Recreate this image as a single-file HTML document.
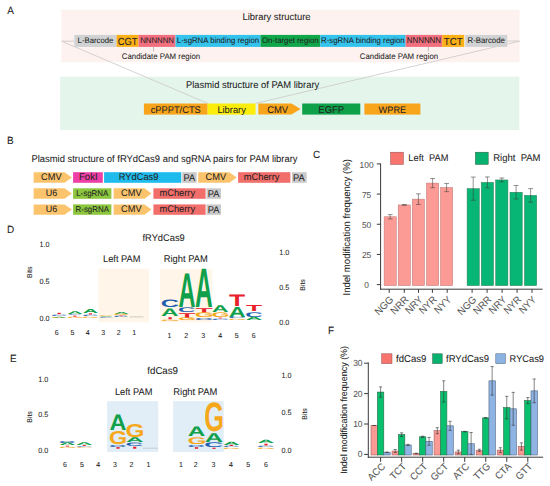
<!DOCTYPE html>
<html><head><meta charset="utf-8"><style>
html,body{margin:0;padding:0;background:#fff;}
svg{display:block;font-family:"Liberation Sans", sans-serif;}
text{stroke-width:0.05px;paint-order:stroke;text-rendering:geometricPrecision;}
</style></head><body>
<svg width="550" height="486" viewBox="0 0 550 486">
<rect width="550" height="486" fill="#fff"/>
<text x="7.30" y="13.70" font-size="10" text-anchor="start" fill="#222222" stroke="#222222" transform="matrix(1,0,0,1.038,0,-0.521)" >A</text>
<text x="7.10" y="143.90" font-size="10" text-anchor="start" fill="#222222" stroke="#222222" transform="matrix(1,0,0,1.038,0,-5.468)" >B</text>
<text x="312.90" y="158.10" font-size="10" text-anchor="start" fill="#222222" stroke="#222222" transform="matrix(1,0,0,1.038,0,-6.008)" >C</text>
<text x="7.10" y="233.10" font-size="10" text-anchor="start" fill="#222222" stroke="#222222" transform="matrix(1,0,0,1.038,0,-8.858)" >D</text>
<text x="10.10" y="361.50" font-size="10" text-anchor="start" fill="#222222" stroke="#222222" transform="matrix(1,0,0,1.038,0,-13.737)" >E</text>
<text x="327.90" y="333.70" font-size="10" text-anchor="start" fill="#222222" stroke="#222222" transform="matrix(1,0,0,1.038,0,-12.681)" >F</text>
<rect x="61.50" y="9.80" width="458.00" height="52.50" fill="#fdf2ef"/>
<rect x="60.20" y="76.70" width="459.10" height="53.30" fill="#e4f5ec"/>
<text x="242.40" y="20.40" font-size="9.45" text-anchor="start" fill="#222222" stroke="#222222" transform="matrix(1,0,0,1.038,0,-0.775)" >Library structure</text>
<line x1="61.50" y1="41.20" x2="74.40" y2="41.20" stroke="#cdc8c8" stroke-width="0.9"/>
<line x1="507.00" y1="41.00" x2="519.50" y2="41.00" stroke="#cdc8c8" stroke-width="0.9"/>
<line x1="62.00" y1="41.40" x2="207.80" y2="103.40" stroke="#cdc8c8" stroke-width="0.8"/>
<line x1="519.50" y1="41.20" x2="255.60" y2="103.40" stroke="#cdc8c8" stroke-width="0.8"/>
<rect x="74.40" y="34.90" width="42.20" height="12.00" fill="#d0d2d3"/>
<text x="95.50" y="43.38" font-size="7.75" text-anchor="middle" fill="#222222" stroke="#222222" transform="matrix(1,0,0,1.038,0,-1.648)"  stroke-width="0.04">L-Barcode</text>
<rect x="116.60" y="34.90" width="22.00" height="12.00" fill="#fbb018"/>
<text x="127.60" y="44.71" font-size="9.9" text-anchor="middle" fill="#222222" stroke="#222222" transform="matrix(1,0,0,1.038,0,-1.699)" textLength="19.9" lengthAdjust="spacingAndGlyphs" stroke-width="0.04">CGT</text>
<rect x="138.60" y="34.90" width="36.90" height="12.00" fill="#f26f7f"/>
<text x="157.05" y="43.40" font-size="7.8" text-anchor="middle" fill="#222222" stroke="#222222" transform="matrix(1,0,0,1.038,0,-1.649)"  stroke-width="0.04">NNNNNN</text>
<rect x="175.50" y="34.90" width="85.00" height="12.00" fill="#34c3ec"/>
<text x="218.00" y="43.40" font-size="7.8" text-anchor="middle" fill="#222222" stroke="#222222" transform="matrix(1,0,0,1.038,0,-1.649)"  stroke-width="0.04">L-sgRNA binding region</text>
<rect x="260.50" y="34.90" width="59.70" height="12.00" fill="#10a64a"/>
<text x="290.35" y="43.39" font-size="7.78" text-anchor="middle" fill="#222222" stroke="#222222" transform="matrix(1,0,0,1.038,0,-1.649)"  stroke-width="0.04">On-target region</text>
<rect x="320.20" y="34.90" width="85.40" height="12.00" fill="#34c3ec"/>
<text x="362.90" y="43.40" font-size="7.8" text-anchor="middle" fill="#222222" stroke="#222222" transform="matrix(1,0,0,1.038,0,-1.649)"  stroke-width="0.04">R-sgRNA binding region</text>
<rect x="405.60" y="34.90" width="36.60" height="12.00" fill="#f26f7f"/>
<text x="423.90" y="43.43" font-size="7.9" text-anchor="middle" fill="#222222" stroke="#222222" transform="matrix(1,0,0,1.038,0,-1.650)"  stroke-width="0.04">NNNNNN</text>
<rect x="442.20" y="34.90" width="22.00" height="12.00" fill="#fbb018"/>
<text x="453.20" y="44.71" font-size="9.9" text-anchor="middle" fill="#222222" stroke="#222222" transform="matrix(1,0,0,1.038,0,-1.699)" textLength="18.9" lengthAdjust="spacingAndGlyphs" stroke-width="0.04">TCT</text>
<rect x="465.20" y="34.90" width="42.00" height="12.00" fill="#d0d2d3"/>
<text x="486.20" y="43.40" font-size="7.8" text-anchor="middle" fill="#222222" stroke="#222222" transform="matrix(1,0,0,1.038,0,-1.649)"  stroke-width="0.04">R-Barcode</text>
<line x1="153.60" y1="46.90" x2="153.60" y2="51.60" stroke="#999" stroke-width="0.6"/>
<line x1="428.30" y1="46.90" x2="428.30" y2="51.60" stroke="#999" stroke-width="0.6"/>
<text x="121.80" y="59.30" font-size="7.85" text-anchor="start" fill="#222222" stroke="#222222" transform="matrix(1,0,0,1.038,0,-2.253)" >Candidate PAM region</text>
<text x="359.80" y="59.30" font-size="7.85" text-anchor="start" fill="#222222" stroke="#222222" transform="matrix(1,0,0,1.038,0,-2.253)" >Candidate PAM region</text>
<text x="186.00" y="87.80" font-size="9.4" text-anchor="start" fill="#222222" stroke="#222222" transform="matrix(1,0,0,1.038,0,-3.336)" >Plasmid structure of PAM library</text>
<rect x="143.90" y="103.50" width="63.70" height="11.10" fill="#f8a51c"/>
<text x="175.75" y="113.23" font-size="9.3" text-anchor="middle" fill="#222222" stroke="#222222" transform="matrix(1,0,0,1.038,0,-4.303)"  stroke-width="0.04">cPPPT/CTS</text>
<rect x="207.60" y="103.50" width="48.00" height="11.10" fill="#fcee0a"/>
<text x="231.60" y="113.23" font-size="9.3" text-anchor="middle" fill="#222222" stroke="#222222" transform="matrix(1,0,0,1.038,0,-4.303)"  stroke-width="0.04">Library</text>
<polygon points="258.3,103.5 291.5,103.5 300.6,109.05 291.5,114.6 258.3,114.6" fill="#f8a51c"/>
<text x="277.60" y="113.28" font-size="9.4" text-anchor="middle" fill="#222222" stroke="#222222" transform="matrix(1,0,0,1.038,0,-4.305)"  stroke-width="0.04">CMV</text>
<rect x="302.20" y="103.50" width="58.10" height="11.10" fill="#0fa04a"/>
<text x="331.25" y="113.33" font-size="9.5" text-anchor="middle" fill="#222222" stroke="#222222" transform="matrix(1,0,0,1.038,0,-4.306)"  stroke-width="0.04">EGFP</text>
<rect x="364.40" y="103.50" width="56.00" height="11.10" fill="#f8a51c"/>
<text x="392.40" y="113.19" font-size="9.2" text-anchor="middle" fill="#222222" stroke="#222222" transform="matrix(1,0,0,1.038,0,-4.301)"  stroke-width="0.04">WPRE</text>
<text x="31.40" y="161.90" font-size="9.43" text-anchor="start" fill="#222222" stroke="#222222" transform="matrix(1,0,0,1.038,0,-6.152)" >Plasmid structure of fRYdCas9 and sgRNA pairs for PAM library</text>
<polygon points="33.6,172.2 64.5,172.2 71.9,177.5 64.5,182.8 33.6,182.8" fill="#fbc46c"/>
<text x="51.30" y="180.01" font-size="9.3" text-anchor="middle" fill="#222222" stroke="#222222" transform="matrix(1,0,0,1.038,0,-6.840)"  stroke-width="0.04">CMV</text>
<rect x="73.10" y="172.20" width="29.70" height="10.60" fill="#ee3fa6"/>
<text x="88.30" y="180.09" font-size="9.6" text-anchor="middle" fill="#222222" stroke="#222222" transform="matrix(1,0,0,1.038,0,-6.843)"  stroke-width="0.04">FokI</text>
<rect x="104.10" y="172.20" width="77.20" height="10.60" fill="#1fbbec"/>
<text x="138.60" y="180.01" font-size="9.3" text-anchor="middle" fill="#222222" stroke="#222222" transform="matrix(1,0,0,1.038,0,-6.840)"  stroke-width="0.04">RYdCas9</text>
<rect x="182.20" y="172.20" width="14.40" height="10.60" fill="#c9c9c9"/>
<text x="189.40" y="180.85" font-size="9.3" text-anchor="middle" fill="#222222" stroke="#222222" transform="matrix(1,0,0,1.038,0,-6.872)"  stroke-width="0.04">PA</text>
<polygon points="198.2,172.2 229.3,172.2 236.8,177.5 229.3,182.8 198.2,182.8" fill="#fbc46c"/>
<text x="215.80" y="180.01" font-size="9.3" text-anchor="middle" fill="#222222" stroke="#222222" transform="matrix(1,0,0,1.038,0,-6.840)"  stroke-width="0.04">CMV</text>
<rect x="238.10" y="172.20" width="52.30" height="10.60" fill="#f26e6a"/>
<text x="261.60" y="180.01" font-size="9.3" text-anchor="middle" fill="#222222" stroke="#222222" transform="matrix(1,0,0,1.038,0,-6.840)"  stroke-width="0.04">mCherry</text>
<rect x="292.00" y="172.20" width="14.60" height="10.60" fill="#c9c9c9"/>
<text x="298.90" y="181.22" font-size="9.3" text-anchor="middle" fill="#222222" stroke="#222222" transform="matrix(1,0,0,1.038,0,-6.886)"  stroke-width="0.04">PA</text>
<polygon points="33.6,188.3 64.5,188.3 71.9,193.55 64.5,198.8 33.6,198.8" fill="#fbc46c"/>
<text x="51.50" y="196.25" font-size="9.0" text-anchor="middle" fill="#222222" stroke="#222222" transform="matrix(1,0,0,1.038,0,-7.458)"  stroke-width="0.04">U6</text>
<rect x="73.10" y="188.30" width="38.30" height="10.50" fill="#8cc63f"/>
<text x="92.25" y="196.16" font-size="7.9" text-anchor="middle" fill="#222222" stroke="#222222" transform="matrix(1,0,0,1.038,0,-7.454)"  stroke-width="0.04">L-sgRNA</text>
<polygon points="113.6,188.3 144.5,188.3 151.5,193.55 144.5,198.8 113.6,198.8" fill="#fbc46c"/>
<text x="131.30" y="196.34" font-size="9.3" text-anchor="middle" fill="#222222" stroke="#222222" transform="matrix(1,0,0,1.038,0,-7.461)"  stroke-width="0.04">CMV</text>
<rect x="153.40" y="188.30" width="52.20" height="10.50" fill="#f26e6a"/>
<text x="177.30" y="196.34" font-size="9.3" text-anchor="middle" fill="#222222" stroke="#222222" transform="matrix(1,0,0,1.038,0,-7.461)"  stroke-width="0.04">mCherry</text>
<rect x="206.50" y="188.30" width="14.50" height="10.50" fill="#c9c9c9"/>
<text x="213.70" y="196.90" font-size="9.3" text-anchor="middle" fill="#222222" stroke="#222222" transform="matrix(1,0,0,1.038,0,-7.482)"  stroke-width="0.04">PA</text>
<polygon points="33.6,204.4 64.5,204.4 71.9,209.60000000000002 64.5,214.8 33.6,214.8" fill="#fbc46c"/>
<text x="51.50" y="212.30" font-size="9.0" text-anchor="middle" fill="#222222" stroke="#222222" transform="matrix(1,0,0,1.038,0,-8.067)"  stroke-width="0.04">U6</text>
<rect x="73.10" y="204.40" width="38.30" height="10.40" fill="#8cc63f"/>
<text x="92.25" y="212.21" font-size="7.9" text-anchor="middle" fill="#222222" stroke="#222222" transform="matrix(1,0,0,1.038,0,-8.064)"  stroke-width="0.04">R-sgRNA</text>
<polygon points="113.6,204.4 144.5,204.4 151.5,209.60000000000002 144.5,214.8 113.6,214.8" fill="#fbc46c"/>
<text x="131.30" y="212.39" font-size="9.3" text-anchor="middle" fill="#222222" stroke="#222222" transform="matrix(1,0,0,1.038,0,-8.071)"  stroke-width="0.04">CMV</text>
<rect x="153.40" y="204.40" width="52.20" height="10.40" fill="#f26e6a"/>
<text x="177.30" y="212.39" font-size="9.3" text-anchor="middle" fill="#222222" stroke="#222222" transform="matrix(1,0,0,1.038,0,-8.071)"  stroke-width="0.04">mCherry</text>
<rect x="206.50" y="204.40" width="14.50" height="10.40" fill="#c9c9c9"/>
<text x="213.70" y="212.95" font-size="9.3" text-anchor="middle" fill="#222222" stroke="#222222" transform="matrix(1,0,0,1.038,0,-8.092)"  stroke-width="0.04">PA</text>
<line x1="380.60" y1="163.40" x2="380.60" y2="289.70" stroke="#3a3a3a" stroke-width="1.0"/>
<line x1="380.10" y1="289.20" x2="542.60" y2="289.20" stroke="#3a3a3a" stroke-width="1.0"/>
<line x1="376.80" y1="284.60" x2="380.60" y2="284.60" stroke="#3a3a3a" stroke-width="1.0"/>
<text x="366.60" y="288.20" font-size="8.4" text-anchor="middle" fill="#555555" stroke="#555555" transform="matrix(1,0,0,1.038,0,-10.952)" >0</text>
<line x1="376.80" y1="254.43" x2="380.60" y2="254.43" stroke="#3a3a3a" stroke-width="1.0"/>
<text x="366.60" y="258.03" font-size="8.4" text-anchor="middle" fill="#555555" stroke="#555555" transform="matrix(1,0,0,1.038,0,-9.805)" >25</text>
<line x1="376.80" y1="224.25" x2="380.60" y2="224.25" stroke="#3a3a3a" stroke-width="1.0"/>
<text x="366.60" y="227.85" font-size="8.4" text-anchor="middle" fill="#555555" stroke="#555555" transform="matrix(1,0,0,1.038,0,-8.658)" >50</text>
<line x1="376.80" y1="194.08" x2="380.60" y2="194.08" stroke="#3a3a3a" stroke-width="1.0"/>
<text x="366.60" y="197.68" font-size="8.4" text-anchor="middle" fill="#555555" stroke="#555555" transform="matrix(1,0,0,1.038,0,-7.512)" >75</text>
<line x1="376.80" y1="163.90" x2="380.60" y2="163.90" stroke="#3a3a3a" stroke-width="1.0"/>
<text x="366.60" y="167.50" font-size="8.4" text-anchor="middle" fill="#555555" stroke="#555555" transform="matrix(1,0,0,1.038,0,-6.365)" >100</text>
<text font-size="9.55" text-anchor="middle" fill="#222222" stroke="#222222" transform="translate(350.10,227.30) rotate(-90) scale(1,1.038)">Indel modification frequency (%)</text>
<rect x="390.60" y="152.20" width="12.80" height="12.20" fill="#f8756e" stroke="#8a4a4a" stroke-width="0.5"/>
<text x="408.30" y="161.40" font-size="9.3" text-anchor="start" fill="#222222" stroke="#222222" transform="matrix(1,0,0,1.038,0,-6.133)" >Left&#160;&#160;PAM</text>
<rect x="475.40" y="152.20" width="12.80" height="12.20" fill="#07b270" stroke="#2a5a3a" stroke-width="0.5"/>
<text x="493.20" y="161.40" font-size="9.5" text-anchor="start" fill="#222222" stroke="#222222" transform="matrix(1,0,0,1.038,0,-6.133)" >Right&#160;&#160;PAM</text>
<rect x="384.10" y="216.77" width="12.20" height="68.83" fill="#fc9b95" stroke="#b87672" stroke-width="0.5"/>
<line x1="390.20" y1="214.59" x2="390.20" y2="218.94" stroke="#3a3a3a" stroke-width="0.55"/>
<line x1="387.80" y1="214.59" x2="392.60" y2="214.59" stroke="#3a3a3a" stroke-width="0.55"/>
<line x1="387.80" y1="218.94" x2="392.60" y2="218.94" stroke="#3a3a3a" stroke-width="0.55"/>
<rect x="398.20" y="204.94" width="12.20" height="80.66" fill="#fc9b95" stroke="#b87672" stroke-width="0.5"/>
<line x1="404.30" y1="204.58" x2="404.30" y2="205.30" stroke="#3a3a3a" stroke-width="0.55"/>
<line x1="401.90" y1="204.58" x2="406.70" y2="204.58" stroke="#3a3a3a" stroke-width="0.55"/>
<line x1="401.90" y1="205.30" x2="406.70" y2="205.30" stroke="#3a3a3a" stroke-width="0.55"/>
<rect x="412.30" y="199.14" width="12.20" height="86.46" fill="#fc9b95" stroke="#b87672" stroke-width="0.5"/>
<line x1="418.40" y1="193.83" x2="418.40" y2="204.46" stroke="#3a3a3a" stroke-width="0.55"/>
<line x1="416.00" y1="193.83" x2="420.80" y2="193.83" stroke="#3a3a3a" stroke-width="0.55"/>
<line x1="416.00" y1="204.46" x2="420.80" y2="204.46" stroke="#3a3a3a" stroke-width="0.55"/>
<rect x="426.50" y="183.09" width="12.20" height="102.51" fill="#fc9b95" stroke="#b87672" stroke-width="0.5"/>
<line x1="432.60" y1="178.50" x2="432.60" y2="187.68" stroke="#3a3a3a" stroke-width="0.55"/>
<line x1="430.20" y1="178.50" x2="435.00" y2="178.50" stroke="#3a3a3a" stroke-width="0.55"/>
<line x1="430.20" y1="187.68" x2="435.00" y2="187.68" stroke="#3a3a3a" stroke-width="0.55"/>
<rect x="440.50" y="187.56" width="12.20" height="98.04" fill="#fc9b95" stroke="#b87672" stroke-width="0.5"/>
<line x1="446.60" y1="183.45" x2="446.60" y2="191.66" stroke="#3a3a3a" stroke-width="0.55"/>
<line x1="444.20" y1="183.45" x2="449.00" y2="183.45" stroke="#3a3a3a" stroke-width="0.55"/>
<line x1="444.20" y1="191.66" x2="449.00" y2="191.66" stroke="#3a3a3a" stroke-width="0.55"/>
<rect x="467.10" y="188.64" width="12.20" height="96.96" fill="#07b674" stroke="#2f7a55" stroke-width="0.5"/>
<line x1="473.20" y1="177.06" x2="473.20" y2="200.23" stroke="#3a3a3a" stroke-width="0.55"/>
<line x1="470.80" y1="177.06" x2="475.60" y2="177.06" stroke="#3a3a3a" stroke-width="0.55"/>
<line x1="470.80" y1="200.23" x2="475.60" y2="200.23" stroke="#3a3a3a" stroke-width="0.55"/>
<rect x="481.30" y="182.37" width="12.20" height="103.23" fill="#07b674" stroke="#2f7a55" stroke-width="0.5"/>
<line x1="487.40" y1="176.94" x2="487.40" y2="187.80" stroke="#3a3a3a" stroke-width="0.55"/>
<line x1="485.00" y1="176.94" x2="489.80" y2="176.94" stroke="#3a3a3a" stroke-width="0.55"/>
<line x1="485.00" y1="187.80" x2="489.80" y2="187.80" stroke="#3a3a3a" stroke-width="0.55"/>
<rect x="495.70" y="179.95" width="12.20" height="105.65" fill="#07b674" stroke="#2f7a55" stroke-width="0.5"/>
<line x1="501.80" y1="178.02" x2="501.80" y2="181.88" stroke="#3a3a3a" stroke-width="0.55"/>
<line x1="499.40" y1="178.02" x2="504.20" y2="178.02" stroke="#3a3a3a" stroke-width="0.55"/>
<line x1="499.40" y1="181.88" x2="504.20" y2="181.88" stroke="#3a3a3a" stroke-width="0.55"/>
<rect x="510.00" y="192.26" width="12.20" height="93.34" fill="#07b674" stroke="#2f7a55" stroke-width="0.5"/>
<line x1="516.10" y1="185.51" x2="516.10" y2="199.02" stroke="#3a3a3a" stroke-width="0.55"/>
<line x1="513.70" y1="185.51" x2="518.50" y2="185.51" stroke="#3a3a3a" stroke-width="0.55"/>
<line x1="513.70" y1="199.02" x2="518.50" y2="199.02" stroke="#3a3a3a" stroke-width="0.55"/>
<rect x="524.50" y="195.40" width="12.20" height="90.20" fill="#07b674" stroke="#2f7a55" stroke-width="0.5"/>
<line x1="530.60" y1="188.64" x2="530.60" y2="202.16" stroke="#3a3a3a" stroke-width="0.55"/>
<line x1="528.20" y1="188.64" x2="533.00" y2="188.64" stroke="#3a3a3a" stroke-width="0.55"/>
<line x1="528.20" y1="202.16" x2="533.00" y2="202.16" stroke="#3a3a3a" stroke-width="0.55"/>
<line x1="389.20" y1="289.20" x2="389.20" y2="292.80" stroke="#3a3a3a" stroke-width="1.0"/>
<line x1="404.30" y1="289.20" x2="404.30" y2="292.80" stroke="#3a3a3a" stroke-width="1.0"/>
<line x1="418.50" y1="289.20" x2="418.50" y2="292.80" stroke="#3a3a3a" stroke-width="1.0"/>
<line x1="432.40" y1="289.20" x2="432.40" y2="292.80" stroke="#3a3a3a" stroke-width="1.0"/>
<line x1="447.20" y1="289.20" x2="447.20" y2="292.80" stroke="#3a3a3a" stroke-width="1.0"/>
<line x1="472.10" y1="289.20" x2="472.10" y2="292.80" stroke="#3a3a3a" stroke-width="1.0"/>
<line x1="487.10" y1="289.20" x2="487.10" y2="292.80" stroke="#3a3a3a" stroke-width="1.0"/>
<line x1="502.10" y1="289.20" x2="502.10" y2="292.80" stroke="#3a3a3a" stroke-width="1.0"/>
<line x1="517.10" y1="289.20" x2="517.10" y2="292.80" stroke="#3a3a3a" stroke-width="1.0"/>
<line x1="532.00" y1="289.20" x2="532.00" y2="292.80" stroke="#3a3a3a" stroke-width="1.0"/>
<text font-size="9.6" text-anchor="end" fill="#555555" stroke="#555555" transform="translate(394.10,300.20) rotate(-45) scale(1,1.038)">NGG</text>
<text font-size="9.6" text-anchor="end" fill="#555555" stroke="#555555" transform="translate(409.20,300.20) rotate(-45) scale(1,1.038)">NRR</text>
<text font-size="9.6" text-anchor="end" fill="#555555" stroke="#555555" transform="translate(423.40,300.20) rotate(-45) scale(1,1.038)">NRY</text>
<text font-size="9.6" text-anchor="end" fill="#555555" stroke="#555555" transform="translate(437.30,300.20) rotate(-45) scale(1,1.038)">NYR</text>
<text font-size="9.6" text-anchor="end" fill="#555555" stroke="#555555" transform="translate(452.10,300.20) rotate(-45) scale(1,1.038)">NYY</text>
<text font-size="9.6" text-anchor="end" fill="#555555" stroke="#555555" transform="translate(477.00,300.20) rotate(-45) scale(1,1.038)">NGG</text>
<text font-size="9.6" text-anchor="end" fill="#555555" stroke="#555555" transform="translate(492.00,300.20) rotate(-45) scale(1,1.038)">NRR</text>
<text font-size="9.6" text-anchor="end" fill="#555555" stroke="#555555" transform="translate(507.00,300.20) rotate(-45) scale(1,1.038)">NRY</text>
<text font-size="9.6" text-anchor="end" fill="#555555" stroke="#555555" transform="translate(522.00,300.20) rotate(-45) scale(1,1.038)">NYR</text>
<text font-size="9.6" text-anchor="end" fill="#555555" stroke="#555555" transform="translate(536.90,300.20) rotate(-45) scale(1,1.038)">NYY</text>
<line x1="368.30" y1="362.40" x2="368.30" y2="457.70" stroke="#3a3a3a" stroke-width="1.0"/>
<line x1="367.80" y1="457.20" x2="543.20" y2="457.20" stroke="#3a3a3a" stroke-width="1.0"/>
<line x1="364.10" y1="454.40" x2="368.30" y2="454.40" stroke="#3a3a3a" stroke-width="1.0"/>
<text x="362.60" y="457.40" font-size="8.5" text-anchor="end" fill="#555555" stroke="#555555" transform="matrix(1,0,0,1.038,0,-17.381)" >0</text>
<line x1="364.10" y1="424.00" x2="368.30" y2="424.00" stroke="#3a3a3a" stroke-width="1.0"/>
<text x="362.60" y="427.00" font-size="8.5" text-anchor="end" fill="#555555" stroke="#555555" transform="matrix(1,0,0,1.038,0,-16.226)" >10</text>
<line x1="364.10" y1="393.60" x2="368.30" y2="393.60" stroke="#3a3a3a" stroke-width="1.0"/>
<text x="362.60" y="396.60" font-size="8.5" text-anchor="end" fill="#555555" stroke="#555555" transform="matrix(1,0,0,1.038,0,-15.071)" >20</text>
<line x1="364.10" y1="363.20" x2="368.30" y2="363.20" stroke="#3a3a3a" stroke-width="1.0"/>
<text x="362.60" y="366.20" font-size="8.5" text-anchor="end" fill="#555555" stroke="#555555" transform="matrix(1,0,0,1.038,0,-13.916)" >30</text>
<text font-size="8.95" text-anchor="middle" fill="#222222" stroke="#222222" transform="translate(347.30,409.80) rotate(-90) scale(1,1.038)">Indel modification frequency (%)</text>
<rect x="381.70" y="353.80" width="10.30" height="9.80" fill="#f8756e" stroke="#8a4a4a" stroke-width="0.5"/>
<text x="396.00" y="362.30" font-size="9.6" text-anchor="start" fill="#222222" stroke="#222222" transform="matrix(1,0,0,1.038,0,-13.767)" >fdCas9</text>
<rect x="432.60" y="353.80" width="9.60" height="9.80" fill="#07b270" stroke="#2a5a3a" stroke-width="0.5"/>
<text x="446.00" y="362.30" font-size="9.5" text-anchor="start" fill="#222222" stroke="#222222" transform="matrix(1,0,0,1.038,0,-13.767)" >fRYdCas9</text>
<rect x="495.80" y="353.80" width="9.60" height="9.80" fill="#8db3e2" stroke="#4a5a7a" stroke-width="0.5"/>
<text x="509.60" y="362.30" font-size="9.3" text-anchor="start" fill="#222222" stroke="#222222" transform="matrix(1,0,0,1.038,0,-13.767)" >RYCas9</text>
<rect x="371.00" y="425.52" width="6.40" height="29.48" fill="#fa9a95" stroke="#a06060" stroke-width="0.6"/>
<line x1="374.20" y1="425.52" x2="374.20" y2="425.52" stroke="#333" stroke-width="0.6"/>
<line x1="372.60" y1="425.52" x2="375.80" y2="425.52" stroke="#333" stroke-width="0.6"/>
<line x1="372.60" y1="425.52" x2="375.80" y2="425.52" stroke="#333" stroke-width="0.6"/>
<rect x="377.40" y="392.08" width="6.40" height="62.92" fill="#08c06e" stroke="#2a6a45" stroke-width="0.6"/>
<line x1="380.60" y1="386.91" x2="380.60" y2="397.25" stroke="#333" stroke-width="0.6"/>
<line x1="379.00" y1="386.91" x2="382.20" y2="386.91" stroke="#333" stroke-width="0.6"/>
<line x1="379.00" y1="397.25" x2="382.20" y2="397.25" stroke="#333" stroke-width="0.6"/>
<rect x="383.80" y="452.27" width="6.40" height="2.73" fill="#8fb4e3" stroke="#4f6585" stroke-width="0.6"/>
<line x1="387.00" y1="451.97" x2="387.00" y2="452.58" stroke="#333" stroke-width="0.6"/>
<line x1="385.40" y1="451.97" x2="388.60" y2="451.97" stroke="#333" stroke-width="0.6"/>
<line x1="385.40" y1="452.58" x2="388.60" y2="452.58" stroke="#333" stroke-width="0.6"/>
<line x1="380.60" y1="457.20" x2="380.60" y2="461.80" stroke="#3a3a3a" stroke-width="1.0"/>
<text font-size="9.6" text-anchor="end" fill="#555555" stroke="#555555" transform="translate(385.80,467.00) rotate(-45) scale(1,1.038)">ACC</text>
<rect x="392.03" y="451.06" width="6.40" height="3.94" fill="#fa9a95" stroke="#a06060" stroke-width="0.6"/>
<line x1="395.23" y1="449.54" x2="395.23" y2="452.58" stroke="#333" stroke-width="0.6"/>
<line x1="393.63" y1="449.54" x2="396.83" y2="449.54" stroke="#333" stroke-width="0.6"/>
<line x1="393.63" y1="452.58" x2="396.83" y2="452.58" stroke="#333" stroke-width="0.6"/>
<rect x="398.43" y="434.64" width="6.40" height="20.36" fill="#08c06e" stroke="#2a6a45" stroke-width="0.6"/>
<line x1="401.63" y1="432.82" x2="401.63" y2="436.46" stroke="#333" stroke-width="0.6"/>
<line x1="400.03" y1="432.82" x2="403.23" y2="432.82" stroke="#333" stroke-width="0.6"/>
<line x1="400.03" y1="436.46" x2="403.23" y2="436.46" stroke="#333" stroke-width="0.6"/>
<rect x="404.83" y="444.98" width="6.40" height="10.02" fill="#8fb4e3" stroke="#4f6585" stroke-width="0.6"/>
<line x1="408.03" y1="444.37" x2="408.03" y2="445.58" stroke="#333" stroke-width="0.6"/>
<line x1="406.43" y1="444.37" x2="409.63" y2="444.37" stroke="#333" stroke-width="0.6"/>
<line x1="406.43" y1="445.58" x2="409.63" y2="445.58" stroke="#333" stroke-width="0.6"/>
<line x1="401.63" y1="457.20" x2="401.63" y2="461.80" stroke="#3a3a3a" stroke-width="1.0"/>
<text font-size="9.6" text-anchor="end" fill="#555555" stroke="#555555" transform="translate(406.83,467.00) rotate(-45) scale(1,1.038)">TCT</text>
<rect x="413.06" y="453.49" width="6.40" height="1.51" fill="#fa9a95" stroke="#a06060" stroke-width="0.6"/>
<line x1="416.26" y1="453.18" x2="416.26" y2="453.79" stroke="#333" stroke-width="0.6"/>
<line x1="414.66" y1="453.18" x2="417.86" y2="453.18" stroke="#333" stroke-width="0.6"/>
<line x1="414.66" y1="453.79" x2="417.86" y2="453.79" stroke="#333" stroke-width="0.6"/>
<rect x="419.46" y="436.77" width="6.40" height="18.23" fill="#08c06e" stroke="#2a6a45" stroke-width="0.6"/>
<line x1="422.66" y1="436.16" x2="422.66" y2="437.38" stroke="#333" stroke-width="0.6"/>
<line x1="421.06" y1="436.16" x2="424.26" y2="436.16" stroke="#333" stroke-width="0.6"/>
<line x1="421.06" y1="437.38" x2="424.26" y2="437.38" stroke="#333" stroke-width="0.6"/>
<rect x="425.86" y="441.33" width="6.40" height="13.67" fill="#8fb4e3" stroke="#4f6585" stroke-width="0.6"/>
<line x1="429.06" y1="437.38" x2="429.06" y2="445.28" stroke="#333" stroke-width="0.6"/>
<line x1="427.46" y1="437.38" x2="430.66" y2="437.38" stroke="#333" stroke-width="0.6"/>
<line x1="427.46" y1="445.28" x2="430.66" y2="445.28" stroke="#333" stroke-width="0.6"/>
<line x1="422.66" y1="457.20" x2="422.66" y2="461.80" stroke="#3a3a3a" stroke-width="1.0"/>
<text font-size="9.6" text-anchor="end" fill="#555555" stroke="#555555" transform="translate(427.86,467.00) rotate(-45) scale(1,1.038)">CCT</text>
<rect x="434.09" y="430.69" width="6.40" height="24.31" fill="#fa9a95" stroke="#a06060" stroke-width="0.6"/>
<line x1="437.29" y1="427.65" x2="437.29" y2="433.73" stroke="#333" stroke-width="0.6"/>
<line x1="435.69" y1="427.65" x2="438.89" y2="427.65" stroke="#333" stroke-width="0.6"/>
<line x1="435.69" y1="433.73" x2="438.89" y2="433.73" stroke="#333" stroke-width="0.6"/>
<rect x="440.49" y="391.47" width="6.40" height="63.53" fill="#08c06e" stroke="#2a6a45" stroke-width="0.6"/>
<line x1="443.69" y1="380.83" x2="443.69" y2="402.11" stroke="#333" stroke-width="0.6"/>
<line x1="442.09" y1="380.83" x2="445.29" y2="380.83" stroke="#333" stroke-width="0.6"/>
<line x1="442.09" y1="402.11" x2="445.29" y2="402.11" stroke="#333" stroke-width="0.6"/>
<rect x="446.89" y="425.82" width="6.40" height="29.18" fill="#8fb4e3" stroke="#4f6585" stroke-width="0.6"/>
<line x1="450.09" y1="421.26" x2="450.09" y2="430.38" stroke="#333" stroke-width="0.6"/>
<line x1="448.49" y1="421.26" x2="451.69" y2="421.26" stroke="#333" stroke-width="0.6"/>
<line x1="448.49" y1="430.38" x2="451.69" y2="430.38" stroke="#333" stroke-width="0.6"/>
<line x1="443.69" y1="457.20" x2="443.69" y2="461.80" stroke="#3a3a3a" stroke-width="1.0"/>
<text font-size="9.6" text-anchor="end" fill="#555555" stroke="#555555" transform="translate(448.89,467.00) rotate(-45) scale(1,1.038)">GCT</text>
<rect x="455.12" y="451.97" width="6.40" height="3.03" fill="#fa9a95" stroke="#a06060" stroke-width="0.6"/>
<line x1="458.32" y1="450.14" x2="458.32" y2="453.79" stroke="#333" stroke-width="0.6"/>
<line x1="456.72" y1="450.14" x2="459.92" y2="450.14" stroke="#333" stroke-width="0.6"/>
<line x1="456.72" y1="453.79" x2="459.92" y2="453.79" stroke="#333" stroke-width="0.6"/>
<rect x="461.52" y="431.60" width="6.40" height="23.40" fill="#08c06e" stroke="#2a6a45" stroke-width="0.6"/>
<line x1="464.72" y1="431.30" x2="464.72" y2="431.90" stroke="#333" stroke-width="0.6"/>
<line x1="463.12" y1="431.30" x2="466.32" y2="431.30" stroke="#333" stroke-width="0.6"/>
<line x1="463.12" y1="431.90" x2="466.32" y2="431.90" stroke="#333" stroke-width="0.6"/>
<rect x="467.92" y="443.76" width="6.40" height="11.24" fill="#8fb4e3" stroke="#4f6585" stroke-width="0.6"/>
<line x1="471.12" y1="432.51" x2="471.12" y2="454.40" stroke="#333" stroke-width="0.6"/>
<line x1="469.52" y1="432.51" x2="472.72" y2="432.51" stroke="#333" stroke-width="0.6"/>
<line x1="469.52" y1="454.40" x2="472.72" y2="454.40" stroke="#333" stroke-width="0.6"/>
<line x1="464.72" y1="457.20" x2="464.72" y2="461.80" stroke="#3a3a3a" stroke-width="1.0"/>
<text font-size="9.6" text-anchor="end" fill="#555555" stroke="#555555" transform="translate(469.92,467.00) rotate(-45) scale(1,1.038)">ATC</text>
<rect x="476.15" y="450.45" width="6.40" height="4.55" fill="#fa9a95" stroke="#a06060" stroke-width="0.6"/>
<line x1="479.35" y1="449.23" x2="479.35" y2="451.66" stroke="#333" stroke-width="0.6"/>
<line x1="477.75" y1="449.23" x2="480.95" y2="449.23" stroke="#333" stroke-width="0.6"/>
<line x1="477.75" y1="451.66" x2="480.95" y2="451.66" stroke="#333" stroke-width="0.6"/>
<rect x="482.55" y="417.92" width="6.40" height="37.08" fill="#08c06e" stroke="#2a6a45" stroke-width="0.6"/>
<line x1="485.75" y1="417.62" x2="485.75" y2="418.22" stroke="#333" stroke-width="0.6"/>
<line x1="484.15" y1="417.62" x2="487.35" y2="417.62" stroke="#333" stroke-width="0.6"/>
<line x1="484.15" y1="418.22" x2="487.35" y2="418.22" stroke="#333" stroke-width="0.6"/>
<rect x="488.95" y="380.83" width="6.40" height="74.17" fill="#8fb4e3" stroke="#4f6585" stroke-width="0.6"/>
<line x1="492.15" y1="366.54" x2="492.15" y2="395.12" stroke="#333" stroke-width="0.6"/>
<line x1="490.55" y1="366.54" x2="493.75" y2="366.54" stroke="#333" stroke-width="0.6"/>
<line x1="490.55" y1="395.12" x2="493.75" y2="395.12" stroke="#333" stroke-width="0.6"/>
<line x1="485.75" y1="457.20" x2="485.75" y2="461.80" stroke="#3a3a3a" stroke-width="1.0"/>
<text font-size="9.6" text-anchor="end" fill="#555555" stroke="#555555" transform="translate(490.95,467.00) rotate(-45) scale(1,1.038)">TTG</text>
<rect x="497.18" y="450.14" width="6.40" height="4.86" fill="#fa9a95" stroke="#a06060" stroke-width="0.6"/>
<line x1="500.38" y1="447.71" x2="500.38" y2="452.58" stroke="#333" stroke-width="0.6"/>
<line x1="498.78" y1="447.71" x2="501.98" y2="447.71" stroke="#333" stroke-width="0.6"/>
<line x1="498.78" y1="452.58" x2="501.98" y2="452.58" stroke="#333" stroke-width="0.6"/>
<rect x="503.58" y="407.58" width="6.40" height="47.42" fill="#08c06e" stroke="#2a6a45" stroke-width="0.6"/>
<line x1="506.78" y1="396.34" x2="506.78" y2="418.83" stroke="#333" stroke-width="0.6"/>
<line x1="505.18" y1="396.34" x2="508.38" y2="396.34" stroke="#333" stroke-width="0.6"/>
<line x1="505.18" y1="418.83" x2="508.38" y2="418.83" stroke="#333" stroke-width="0.6"/>
<rect x="509.98" y="408.80" width="6.40" height="46.20" fill="#8fb4e3" stroke="#4f6585" stroke-width="0.6"/>
<line x1="513.18" y1="392.38" x2="513.18" y2="425.22" stroke="#333" stroke-width="0.6"/>
<line x1="511.58" y1="392.38" x2="514.78" y2="392.38" stroke="#333" stroke-width="0.6"/>
<line x1="511.58" y1="425.22" x2="514.78" y2="425.22" stroke="#333" stroke-width="0.6"/>
<line x1="506.78" y1="457.20" x2="506.78" y2="461.80" stroke="#3a3a3a" stroke-width="1.0"/>
<text font-size="9.6" text-anchor="end" fill="#555555" stroke="#555555" transform="translate(511.98,467.00) rotate(-45) scale(1,1.038)">CTA</text>
<rect x="518.21" y="446.50" width="6.40" height="8.50" fill="#fa9a95" stroke="#a06060" stroke-width="0.6"/>
<line x1="521.41" y1="442.85" x2="521.41" y2="450.14" stroke="#333" stroke-width="0.6"/>
<line x1="519.81" y1="442.85" x2="523.01" y2="442.85" stroke="#333" stroke-width="0.6"/>
<line x1="519.81" y1="450.14" x2="523.01" y2="450.14" stroke="#333" stroke-width="0.6"/>
<rect x="524.61" y="400.59" width="6.40" height="54.41" fill="#08c06e" stroke="#2a6a45" stroke-width="0.6"/>
<line x1="527.81" y1="397.55" x2="527.81" y2="403.63" stroke="#333" stroke-width="0.6"/>
<line x1="526.21" y1="397.55" x2="529.41" y2="397.55" stroke="#333" stroke-width="0.6"/>
<line x1="526.21" y1="403.63" x2="529.41" y2="403.63" stroke="#333" stroke-width="0.6"/>
<rect x="531.01" y="390.86" width="6.40" height="64.14" fill="#8fb4e3" stroke="#4f6585" stroke-width="0.6"/>
<line x1="534.21" y1="379.01" x2="534.21" y2="402.72" stroke="#333" stroke-width="0.6"/>
<line x1="532.61" y1="379.01" x2="535.81" y2="379.01" stroke="#333" stroke-width="0.6"/>
<line x1="532.61" y1="402.72" x2="535.81" y2="402.72" stroke="#333" stroke-width="0.6"/>
<line x1="527.81" y1="457.20" x2="527.81" y2="461.80" stroke="#3a3a3a" stroke-width="1.0"/>
<text font-size="9.6" text-anchor="end" fill="#555555" stroke="#555555" transform="translate(533.01,467.00) rotate(-45) scale(1,1.038)">GTT</text>
<text x="142.50" y="241.10" font-size="9.3" text-anchor="start" fill="#222222" stroke="#222222" transform="matrix(1,0,0,1.038,0,-9.162)" >fRYdCas9</text>
<text x="103.00" y="261.50" font-size="9.3" text-anchor="start" fill="#222222" stroke="#222222" transform="matrix(1,0,0,1.038,0,-9.937)" >Left PAM</text>
<text x="163.80" y="261.50" font-size="9.35" text-anchor="start" fill="#222222" stroke="#222222" transform="matrix(1,0,0,1.038,0,-9.937)" >Right PAM</text>
<rect x="98.30" y="268.70" width="50.70" height="53.50" fill="#fff6e9"/>
<rect x="160.00" y="268.90" width="52.20" height="53.50" fill="#fff6e9"/>
<text x="49.40" y="246.70" font-size="7.2" text-anchor="end" fill="#222222" stroke="#222222" transform="matrix(1,0,0,1.038,0,-9.375)" >1.0</text>
<text x="49.40" y="283.80" font-size="7.2" text-anchor="end" fill="#222222" stroke="#222222" transform="matrix(1,0,0,1.038,0,-10.784)" >0.5</text>
<text x="49.40" y="321.40" font-size="7.2" text-anchor="end" fill="#222222" stroke="#222222" transform="matrix(1,0,0,1.038,0,-12.213)" >0.0</text>
<text font-size="6.9" text-anchor="middle" fill="#222222" stroke="#222222" transform="translate(31.80,272.30) rotate(-90) scale(1,1.038)">Bits</text>
<text x="279.20" y="254.80" font-size="7.2" text-anchor="start" fill="#222222" stroke="#222222" transform="matrix(1,0,0,1.038,0,-9.682)" >1.0</text>
<text x="279.20" y="289.60" font-size="7.2" text-anchor="start" fill="#222222" stroke="#222222" transform="matrix(1,0,0,1.038,0,-11.005)" >0.5</text>
<text x="279.20" y="324.80" font-size="7.2" text-anchor="start" fill="#222222" stroke="#222222" transform="matrix(1,0,0,1.038,0,-12.342)" >0.0</text>
<text font-size="6.9" text-anchor="middle" fill="#222222" stroke="#222222" transform="translate(305.00,285.00) rotate(-90) scale(1,1.038)">Bits</text>
<text x="56.80" y="334.70" font-size="7.0" text-anchor="middle" fill="#222222" stroke="#222222" transform="matrix(1,0,0,1.038,0,-12.719)" >6</text>
<text x="72.50" y="334.70" font-size="7.0" text-anchor="middle" fill="#222222" stroke="#222222" transform="matrix(1,0,0,1.038,0,-12.719)" >5</text>
<text x="87.70" y="334.70" font-size="7.0" text-anchor="middle" fill="#222222" stroke="#222222" transform="matrix(1,0,0,1.038,0,-12.719)" >4</text>
<text x="103.20" y="334.70" font-size="7.0" text-anchor="middle" fill="#222222" stroke="#222222" transform="matrix(1,0,0,1.038,0,-12.719)" >3</text>
<text x="118.70" y="334.70" font-size="7.0" text-anchor="middle" fill="#222222" stroke="#222222" transform="matrix(1,0,0,1.038,0,-12.719)" >2</text>
<text x="134.30" y="334.70" font-size="7.0" text-anchor="middle" fill="#222222" stroke="#222222" transform="matrix(1,0,0,1.038,0,-12.719)" >1</text>
<text x="169.50" y="338.30" font-size="7.0" text-anchor="middle" fill="#222222" stroke="#222222" transform="matrix(1,0,0,1.038,0,-12.855)" >1</text>
<text x="186.20" y="338.30" font-size="7.0" text-anchor="middle" fill="#222222" stroke="#222222" transform="matrix(1,0,0,1.038,0,-12.855)" >2</text>
<text x="203.20" y="338.30" font-size="7.0" text-anchor="middle" fill="#222222" stroke="#222222" transform="matrix(1,0,0,1.038,0,-12.855)" >3</text>
<text x="220.20" y="338.30" font-size="7.0" text-anchor="middle" fill="#222222" stroke="#222222" transform="matrix(1,0,0,1.038,0,-12.855)" >4</text>
<text x="236.60" y="338.30" font-size="7.0" text-anchor="middle" fill="#222222" stroke="#222222" transform="matrix(1,0,0,1.038,0,-12.855)" >5</text>
<text x="253.60" y="338.30" font-size="7.0" text-anchor="middle" fill="#222222" stroke="#222222" transform="matrix(1,0,0,1.038,0,-12.855)" >6</text>
<rect x="57.50" y="312.80" width="3.20" height="1.40" fill="#e8202a"/>
<text font-size="1000" font-weight="bold" fill="#1f5eae" transform="matrix(0.02232,0,0,0.00212,50.885,315.879)">C</text>
<text font-size="1000" font-weight="bold" fill="#10a04b" transform="matrix(0.02176,0,0,0.00203,51.256,317.600)">A</text>
<text font-size="1000" font-weight="bold" fill="#f6a81c" transform="matrix(0.02163,0,0,0.00085,50.913,318.192)">G</text>
<text font-size="1000" font-weight="bold" fill="#10a04b" transform="matrix(0.02116,0,0,0.00436,67.271,314.300)">A</text>
<text font-size="1000" font-weight="bold" fill="#1f5eae" transform="matrix(0.02171,0,0,0.00127,66.910,315.287)">C</text>
<rect x="73.30" y="315.60" width="3.20" height="1.10" fill="#e8202a"/>
<text font-size="1000" font-weight="bold" fill="#f6a81c" transform="matrix(0.02104,0,0,0.00155,66.937,318.084)">G</text>
<text font-size="1000" font-weight="bold" fill="#10a04b" transform="matrix(0.02146,0,0,0.00552,82.663,312.900)">A</text>
<rect x="88.80" y="313.30" width="3.20" height="1.20" fill="#e8202a"/>
<text font-size="1000" font-weight="bold" fill="#1f5eae" transform="matrix(0.02202,0,0,0.00212,82.297,316.279)">C</text>
<text font-size="1000" font-weight="bold" fill="#f6a81c" transform="matrix(0.02133,0,0,0.00155,82.325,317.884)">G</text>
<text font-size="1000" font-weight="bold" fill="#f6a81c" transform="matrix(0.01956,0,0,0.00099,98.498,316.290)">G</text>
<text font-size="1000" font-weight="bold" fill="#10a04b" transform="matrix(0.01967,0,0,0.00102,98.808,317.000)">A</text>
<text font-size="1000" font-weight="bold" fill="#1f5eae" transform="matrix(0.02018,0,0,0.00085,98.472,317.592)">C</text>
<rect x="104.30" y="317.90" width="3.20" height="0.10" fill="#e8202a"/>
<text font-size="1000" font-weight="bold" fill="#10a04b" transform="matrix(0.02027,0,0,0.00291,113.893,313.600)">A</text>
<text font-size="1000" font-weight="bold" fill="#f6a81c" transform="matrix(0.02015,0,0,0.00198,113.574,315.080)">G</text>
<rect x="119.60" y="315.50" width="3.20" height="0.70" fill="#e8202a"/>
<text font-size="1000" font-weight="bold" fill="#1f5eae" transform="matrix(0.02080,0,0,0.00155,113.547,317.384)">C</text>
<line x1="129.80" y1="316.90" x2="143.50" y2="316.90" stroke="#b8b8a8" stroke-width="0.7"/>
<text font-size="1000" font-weight="bold" fill="#1f5eae" transform="matrix(0.02554,0,0,0.01045,160.653,306.895)">C</text>
<text font-size="1000" font-weight="bold" fill="#10a04b" transform="matrix(0.02489,0,0,0.01105,161.078,316.200)">A</text>
<rect x="168.45" y="317.20" width="3.20" height="2.10" fill="#e8202a"/>
<text font-size="1000" font-weight="bold" fill="#f6a81c" transform="matrix(0.02474,0,0,0.00226,160.686,321.177)">G</text>
<text font-size="1000" font-weight="bold" fill="#10a04b" transform="matrix(0.02385,0,0,0.04855,178.404,307.000)">A</text>
<text font-size="1000" font-weight="bold" fill="#1f5eae" transform="matrix(0.02446,0,0,0.00650,177.997,312.435)">C</text>
<text font-size="1000" font-weight="bold" fill="#e8202a" transform="matrix(0.02716,0,0,0.00640,178.701,317.500)">T</text>
<text font-size="1000" font-weight="bold" fill="#f6a81c" transform="matrix(0.02370,0,0,0.00353,178.028,320.465)">G</text>
<text font-size="1000" font-weight="bold" fill="#10a04b" transform="matrix(0.02474,0,0,0.05523,195.082,307.000)">A</text>
<text font-size="1000" font-weight="bold" fill="#e8202a" transform="matrix(0.02818,0,0,0.00712,195.390,312.500)">T</text>
<text font-size="1000" font-weight="bold" fill="#f6a81c" transform="matrix(0.02459,0,0,0.00636,194.692,317.436)">G</text>
<text font-size="1000" font-weight="bold" fill="#1f5eae" transform="matrix(0.02538,0,0,0.00339,194.659,320.266)">C</text>
<text font-size="1000" font-weight="bold" fill="#10a04b" transform="matrix(0.02355,0,0,0.00945,211.811,311.700)">A</text>
<text font-size="1000" font-weight="bold" fill="#f6a81c" transform="matrix(0.02341,0,0,0.00706,211.440,317.129)">G</text>
<rect x="218.70" y="317.60" width="3.20" height="0.90" fill="#e8202a"/>
<text font-size="1000" font-weight="bold" fill="#1f5eae" transform="matrix(0.02416,0,0,0.00226,211.409,320.377)">C</text>
<text font-size="1000" font-weight="bold" fill="#e8202a" transform="matrix(0.02683,0,0,0.01657,229.005,305.700)">T</text>
<text font-size="1000" font-weight="bold" fill="#10a04b" transform="matrix(0.02355,0,0,0.01497,228.711,316.600)">A</text>
<text font-size="1000" font-weight="bold" fill="#1f5eae" transform="matrix(0.02416,0,0,0.00198,228.309,318.380)">C</text>
<text font-size="1000" font-weight="bold" fill="#f6a81c" transform="matrix(0.02341,0,0,0.00198,228.340,320.380)">G</text>
<text font-size="1000" font-weight="bold" fill="#e8202a" transform="matrix(0.02683,0,0,0.00872,245.905,311.200)">T</text>
<text font-size="1000" font-weight="bold" fill="#1f5eae" transform="matrix(0.02416,0,0,0.00678,245.209,316.532)">C</text>
<text font-size="1000" font-weight="bold" fill="#10a04b" transform="matrix(0.02355,0,0,0.00465,245.611,320.400)">A</text>
<text x="147.30" y="373.80" font-size="9.7" text-anchor="start" fill="#222222" stroke="#222222" transform="matrix(1,0,0,1.038,0,-14.204)" >fdCas9</text>
<text x="114.90" y="394.80" font-size="9.3" text-anchor="start" fill="#222222" stroke="#222222" transform="matrix(1,0,0,1.038,0,-15.002)" >Left PAM</text>
<text x="173.30" y="394.80" font-size="9.38" text-anchor="start" fill="#222222" stroke="#222222" transform="matrix(1,0,0,1.038,0,-15.002)" >Right PAM</text>
<rect x="107.10" y="401.10" width="51.10" height="50.90" fill="#e1eef8"/>
<rect x="173.10" y="401.10" width="50.60" height="50.90" fill="#e1eef8"/>
<text x="48.20" y="381.80" font-size="7.2" text-anchor="end" fill="#222222" stroke="#222222" transform="matrix(1,0,0,1.038,0,-14.508)" >1.0</text>
<text x="48.20" y="417.30" font-size="7.2" text-anchor="end" fill="#222222" stroke="#222222" transform="matrix(1,0,0,1.038,0,-15.857)" >0.5</text>
<text x="48.20" y="452.60" font-size="7.2" text-anchor="end" fill="#222222" stroke="#222222" transform="matrix(1,0,0,1.038,0,-17.199)" >0.0</text>
<text font-size="6.9" text-anchor="middle" fill="#222222" stroke="#222222" transform="translate(31.90,417.00) rotate(-90) scale(1,1.038)">Bits</text>
<text x="281.40" y="378.00" font-size="7.2" text-anchor="start" fill="#222222" stroke="#222222" transform="matrix(1,0,0,1.038,0,-14.364)" >1.0</text>
<text x="281.40" y="415.00" font-size="7.2" text-anchor="start" fill="#222222" stroke="#222222" transform="matrix(1,0,0,1.038,0,-15.770)" >0.5</text>
<text x="281.40" y="452.80" font-size="7.2" text-anchor="start" fill="#222222" stroke="#222222" transform="matrix(1,0,0,1.038,0,-17.206)" >0.0</text>
<text font-size="6.9" text-anchor="middle" fill="#222222" stroke="#222222" transform="translate(307.20,414.00) rotate(-90) scale(1,1.038)">Bits</text>
<text x="64.90" y="466.60" font-size="7.0" text-anchor="middle" fill="#222222" stroke="#222222" transform="matrix(1,0,0,1.038,0,-17.731)" >6</text>
<text x="82.00" y="466.60" font-size="7.0" text-anchor="middle" fill="#222222" stroke="#222222" transform="matrix(1,0,0,1.038,0,-17.731)" >5</text>
<text x="98.30" y="466.60" font-size="7.0" text-anchor="middle" fill="#222222" stroke="#222222" transform="matrix(1,0,0,1.038,0,-17.731)" >4</text>
<text x="115.00" y="466.60" font-size="7.0" text-anchor="middle" fill="#222222" stroke="#222222" transform="matrix(1,0,0,1.038,0,-17.731)" >3</text>
<text x="131.50" y="466.60" font-size="7.0" text-anchor="middle" fill="#222222" stroke="#222222" transform="matrix(1,0,0,1.038,0,-17.731)" >2</text>
<text x="148.40" y="466.60" font-size="7.0" text-anchor="middle" fill="#222222" stroke="#222222" transform="matrix(1,0,0,1.038,0,-17.731)" >1</text>
<text x="181.00" y="466.60" font-size="7.0" text-anchor="middle" fill="#222222" stroke="#222222" transform="matrix(1,0,0,1.038,0,-17.731)" >1</text>
<text x="195.70" y="466.60" font-size="7.0" text-anchor="middle" fill="#222222" stroke="#222222" transform="matrix(1,0,0,1.038,0,-17.731)" >2</text>
<text x="213.40" y="466.60" font-size="7.0" text-anchor="middle" fill="#222222" stroke="#222222" transform="matrix(1,0,0,1.038,0,-17.731)" >3</text>
<text x="231.00" y="466.60" font-size="7.0" text-anchor="middle" fill="#222222" stroke="#222222" transform="matrix(1,0,0,1.038,0,-17.731)" >4</text>
<text x="248.30" y="466.60" font-size="7.0" text-anchor="middle" fill="#222222" stroke="#222222" transform="matrix(1,0,0,1.038,0,-17.731)" >5</text>
<text x="266.00" y="466.60" font-size="7.0" text-anchor="middle" fill="#222222" stroke="#222222" transform="matrix(1,0,0,1.038,0,-17.731)" >6</text>
<line x1="143.00" y1="448.20" x2="158.00" y2="448.20" stroke="#b0b8b8" stroke-width="0.6"/>
<text font-size="1000" font-weight="bold" fill="#1f5eae" transform="matrix(0.02324,0,0,0.00282,58.847,442.972)">C</text>
<text font-size="1000" font-weight="bold" fill="#10a04b" transform="matrix(0.02265,0,0,0.00349,59.234,445.400)">A</text>
<rect x="65.80" y="445.70" width="3.20" height="0.90" fill="#e8202a"/>
<text font-size="1000" font-weight="bold" fill="#f6a81c" transform="matrix(0.02252,0,0,0.00169,58.877,447.983)">G</text>
<text font-size="1000" font-weight="bold" fill="#10a04b" transform="matrix(0.02355,0,0,0.00407,75.811,444.800)">A</text>
<rect x="82.70" y="445.10" width="3.20" height="0.90" fill="#e8202a"/>
<text font-size="1000" font-weight="bold" fill="#1f5eae" transform="matrix(0.02416,0,0,0.00141,75.409,446.986)">C</text>
<text font-size="1000" font-weight="bold" fill="#f6a81c" transform="matrix(0.02341,0,0,0.00141,75.440,447.986)">G</text>
<text font-size="1000" font-weight="bold" fill="#10a04b" transform="matrix(0.02385,0,0,0.02224,109.404,429.600)">A</text>
<text font-size="1000" font-weight="bold" fill="#f6a81c" transform="matrix(0.02370,0,0,0.01893,109.028,443.711)">G</text>
<text font-size="1000" font-weight="bold" fill="#1f5eae" transform="matrix(0.02446,0,0,0.00339,108.997,446.766)">C</text>
<rect x="116.40" y="447.10" width="3.20" height="1.60" fill="#e8202a"/>
<text font-size="1000" font-weight="bold" fill="#f6a81c" transform="matrix(0.02400,0,0,0.01879,125.616,437.012)">G</text>
<text font-size="1000" font-weight="bold" fill="#10a04b" transform="matrix(0.02414,0,0,0.00669,125.996,442.400)">A</text>
<text font-size="1000" font-weight="bold" fill="#1f5eae" transform="matrix(0.02477,0,0,0.00494,125.584,446.351)">C</text>
<rect x="133.10" y="446.70" width="3.20" height="2.00" fill="#e8202a"/>
<text font-size="1000" font-weight="bold" fill="#10a04b" transform="matrix(0.02414,0,0,0.01395,187.796,436.300)">A</text>
<text font-size="1000" font-weight="bold" fill="#f6a81c" transform="matrix(0.02400,0,0,0.00975,187.416,443.703)">G</text>
<text font-size="1000" font-weight="bold" fill="#1f5eae" transform="matrix(0.02477,0,0,0.00339,187.384,446.866)">C</text>
<rect x="194.90" y="447.20" width="3.20" height="1.60" fill="#e8202a"/>
<text font-size="1000" font-weight="bold" fill="#f6a81c" transform="matrix(0.02548,0,0,0.04082,204.355,431.492)">G</text>
<text font-size="1000" font-weight="bold" fill="#10a04b" transform="matrix(0.02563,0,0,0.01250,204.759,441.900)">A</text>
<text font-size="1000" font-weight="bold" fill="#1f5eae" transform="matrix(0.02630,0,0,0.00720,204.322,447.328)">C</text>
<rect x="212.40" y="447.70" width="3.20" height="1.20" fill="#e8202a"/>
<text font-size="1000" font-weight="bold" fill="#10a04b" transform="matrix(0.02295,0,0,0.00465,223.026,444.600)">A</text>
<rect x="229.70" y="444.90" width="3.20" height="1.10" fill="#e8202a"/>
<text font-size="1000" font-weight="bold" fill="#1f5eae" transform="matrix(0.02355,0,0,0.00169,222.635,447.183)">C</text>
<text font-size="1000" font-weight="bold" fill="#f6a81c" transform="matrix(0.02281,0,0,0.00198,222.665,448.580)">G</text>
<text font-size="1000" font-weight="bold" fill="#10a04b" transform="matrix(0.02385,0,0,0.00494,257.404,443.400)">A</text>
<rect x="264.40" y="443.70" width="3.20" height="1.80" fill="#e8202a"/>
<text font-size="1000" font-weight="bold" fill="#1f5eae" transform="matrix(0.02446,0,0,0.00169,256.997,446.983)">C</text>
<text font-size="1000" font-weight="bold" fill="#f6a81c" transform="matrix(0.02370,0,0,0.00226,257.028,448.577)">G</text>
</svg></body></html>
